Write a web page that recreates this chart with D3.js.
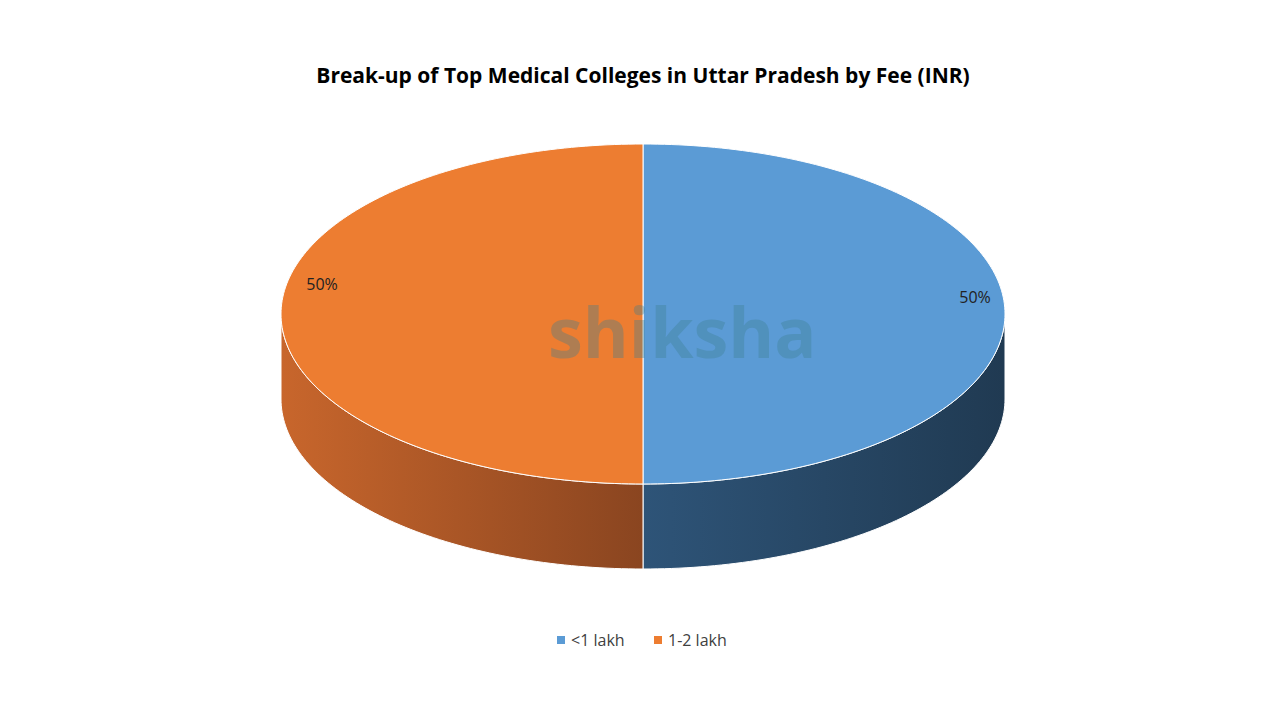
<!DOCTYPE html>
<html>
<head>
<meta charset="utf-8">
<script src="https://cdn.jsdelivr.net/npm/d3@7"></script>
<style>
  body { margin: 0; background: #fff; }
  text { font-family: "Open Sans", "Liberation Sans", sans-serif; }
</style>
</head>
<body>
<svg width="1280" height="720"></svg>
<script>
var categories = ['<1 lakh', '1-2 lakh'];
var values = [50, 50];
var labels = ['50%', '50%'];
var colors = ['#5B9BD5', '#ED7D31'];
var sideColors = [['#2E5478', '#203A52'], ['#C8662C', '#8A4520']];

var svg = d3.select('svg');
var cx = 643, cy = 314, rx = 362, ry = 170, depth = 85;

var pie = d3.pie().sort(null).value(function (d) { return d; });
var arcs = pie(values);

function pt(a, dy) {
  return [cx + rx * Math.sin(a), cy - ry * Math.cos(a) + (dy || 0)];
}
function samples(a0, a1) {
  var n = Math.max(2, Math.ceil((a1 - a0) / 0.02));
  return d3.range(n + 1).map(function (i) { return a0 + (a1 - a0) * i / n; });
}
var line = d3.line();

var defs = svg.append('defs');
sideColors.forEach(function (c, i) {
  var g = defs.append('linearGradient').attr('id', 'side' + i)
    .attr('x1', '0%').attr('x2', '100%');
  g.append('stop').attr('offset', '0%').attr('stop-color', c[0]);
  g.append('stop').attr('offset', '100%').attr('stop-color', c[1]);
});

// side walls (front half only)
arcs.forEach(function (d, i) {
  var a0 = Math.max(d.startAngle, Math.PI / 2);
  var a1 = Math.min(d.endAngle, 3 * Math.PI / 2);
  if (a1 <= a0) return;
  var s = samples(a0, a1);
  var pts = s.map(function (a) { return pt(a); })
    .concat(s.slice().reverse().map(function (a) { return pt(a, depth); }));
  svg.append('path')
    .attr('d', line(pts) + 'Z')
    .attr('fill', 'url(#side' + i + ')')
    .attr('stroke', '#fff').attr('stroke-width', 1);
});

// top faces
arcs.forEach(function (d, i) {
  var pts = [[cx, cy]].concat(samples(d.startAngle, d.endAngle).map(function (a) { return pt(a); }));
  svg.append('path')
    .attr('d', line(pts) + 'Z')
    .attr('fill', colors[i])
    .attr('stroke', '#fff').attr('stroke-width', 1);
});

// watermark
svg.append('text').attr('x', 548).attr('y', 358)
  .attr('font-size', 70).attr('font-weight', 'bold')
  .attr('fill', '#3c7f8f').attr('opacity', 0.35).text('shiksha');

// data labels
var labelPos = [[975, 297], [322, 284]];
arcs.forEach(function (d, i) {
  svg.append('text').attr('x', labelPos[i][0]).attr('y', labelPos[i][1] + 6)
    .attr('text-anchor', 'middle').attr('font-size', 16).attr('fill', '#222')
    .text(labels[i]);
});

svg.append('text').attr('x', 643).attr('y', 83)
  .attr('text-anchor', 'middle').attr('font-size', 21).attr('font-weight', 'bold')
  .attr('fill', '#000').text('Break-up of Top Medical Colleges in Uttar Pradesh by Fee (INR)');

// legend
var legendX = [557, 654];
categories.forEach(function (c, i) {
  svg.append('rect').attr('x', legendX[i]).attr('y', 636).attr('width', 8).attr('height', 8)
    .attr('fill', colors[i]);
  svg.append('text').attr('x', legendX[i] + 14).attr('y', 646)
    .attr('font-size', 16).attr('fill', '#404040').text(c);
});
</script>
</body>
</html>
